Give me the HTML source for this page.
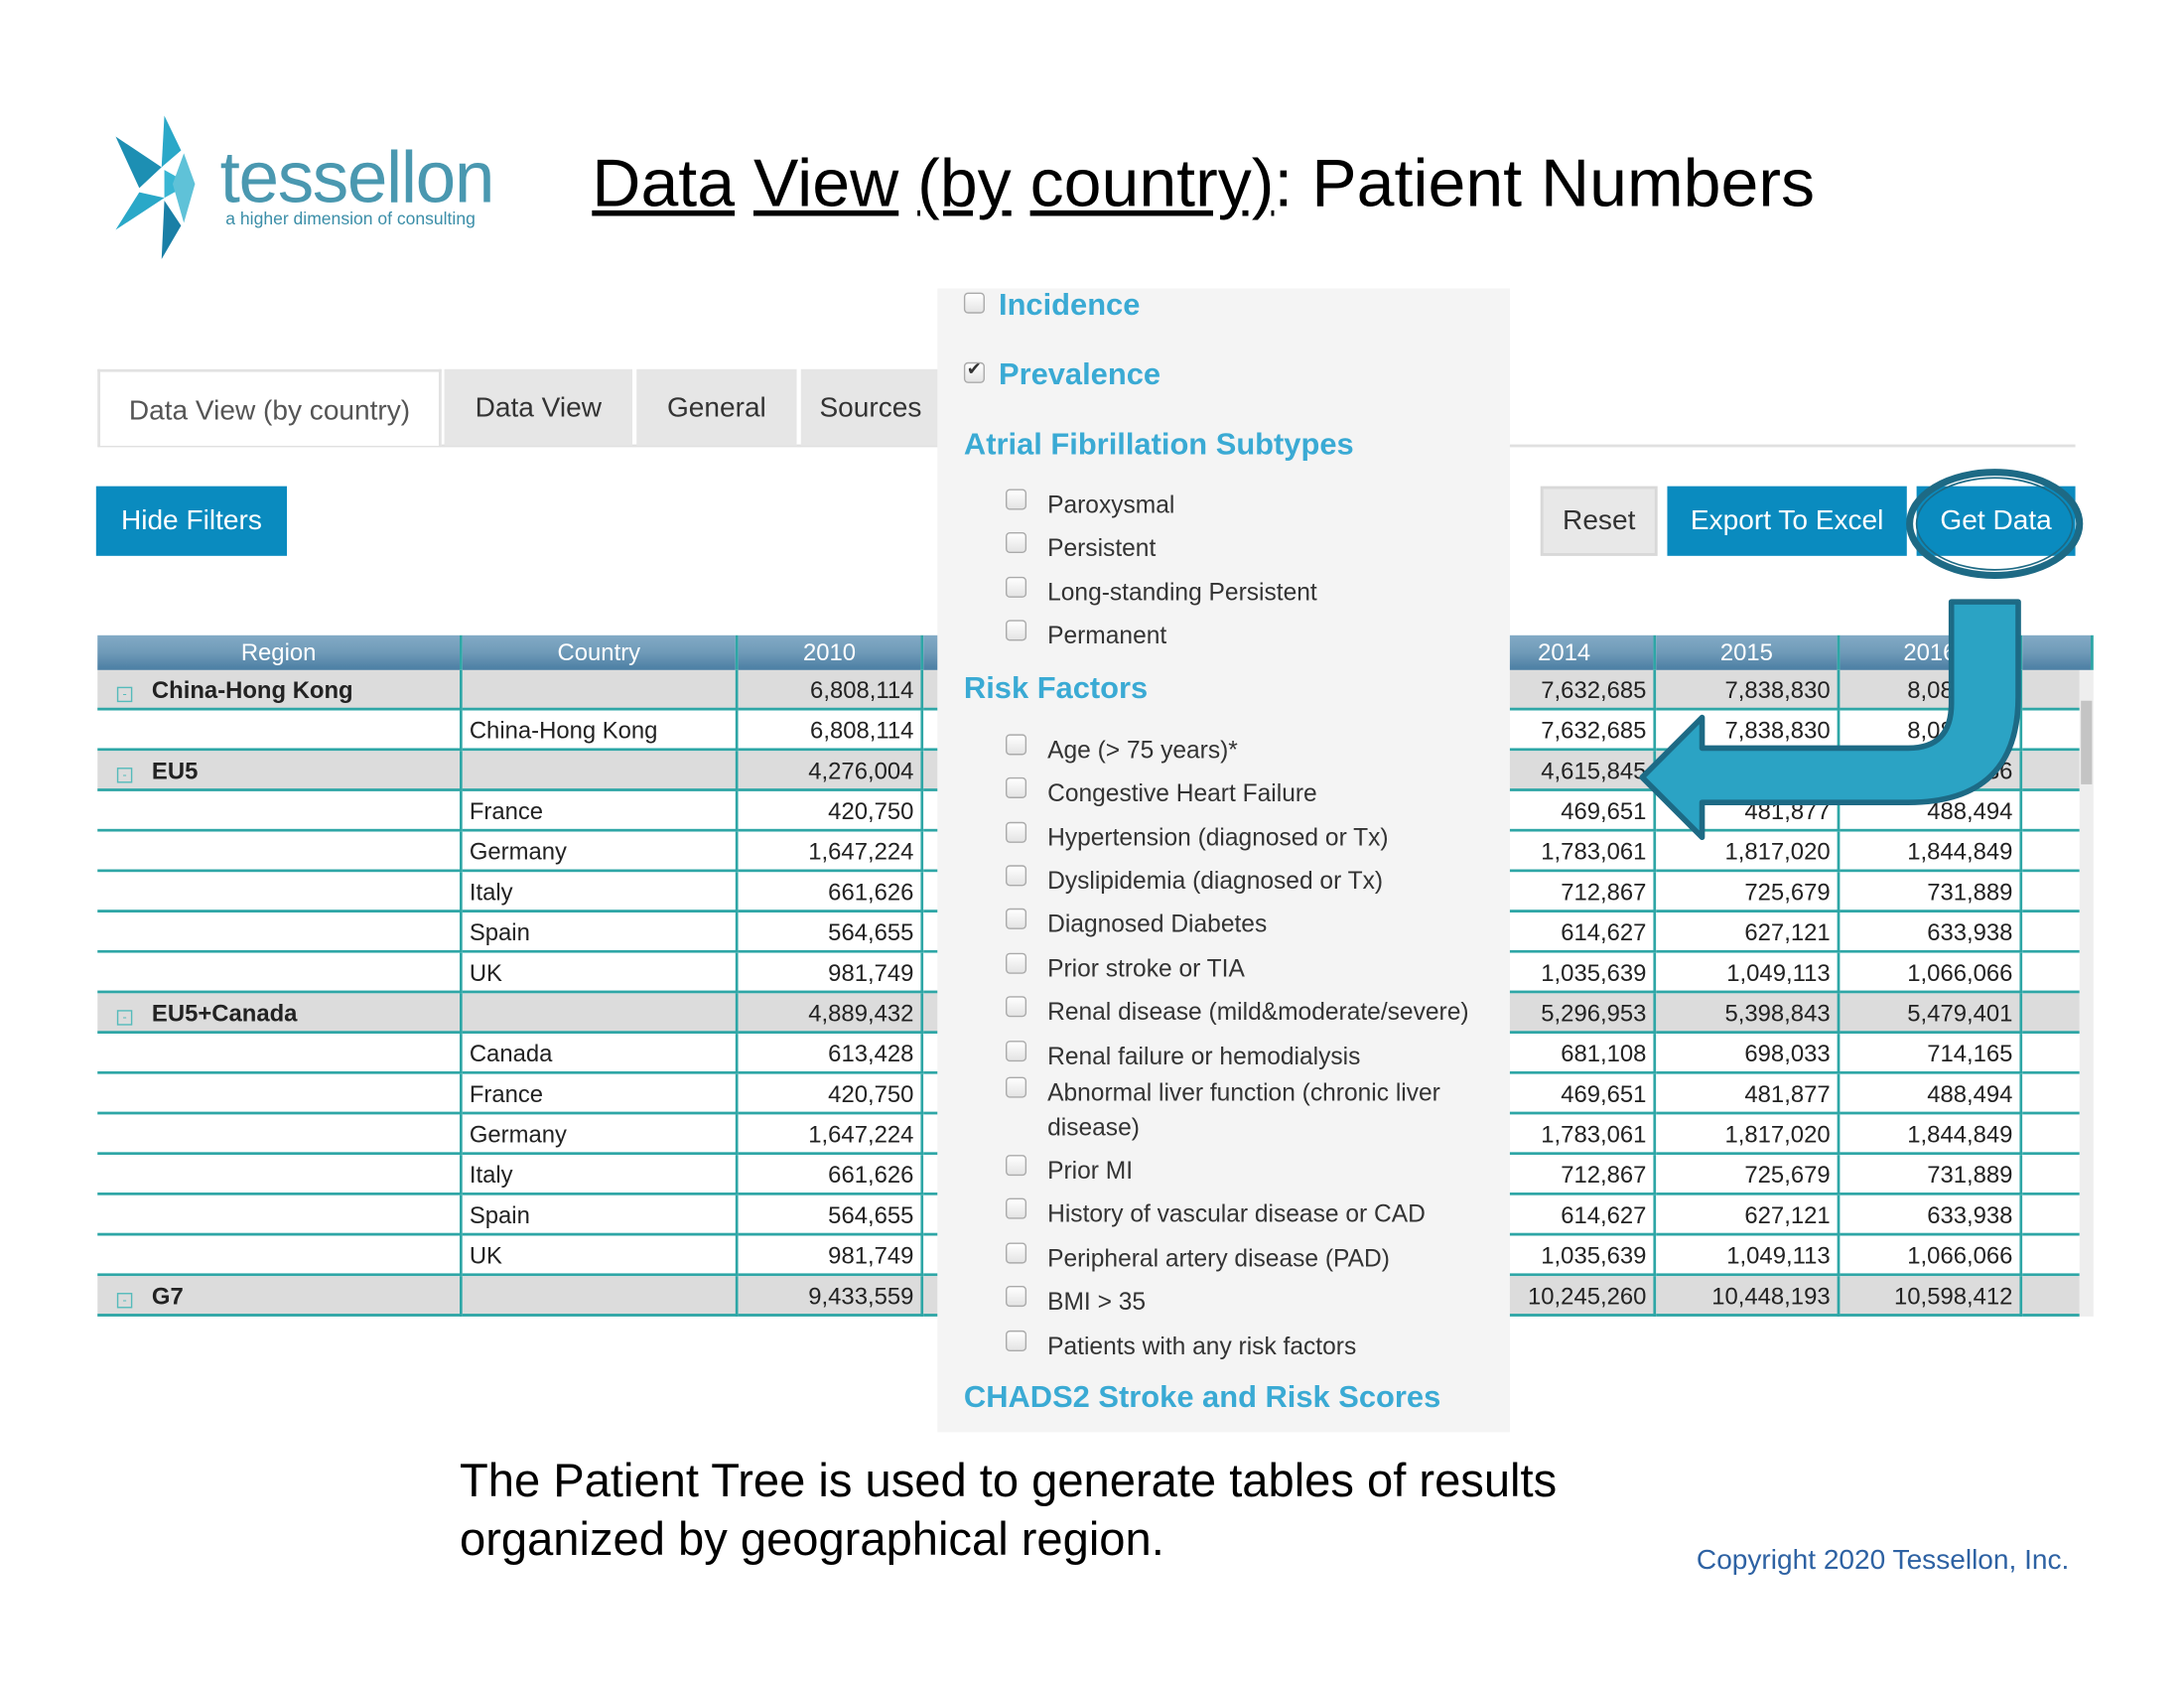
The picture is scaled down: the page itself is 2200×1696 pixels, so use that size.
<!DOCTYPE html>
<html><head><meta charset="utf-8">
<style>
html,body{margin:0;padding:0;background:#fff;}
body{width:2200px;height:1696px;overflow:hidden;position:relative;}
#s{position:absolute;left:0;top:0;width:1568px;height:1209px;transform:scale(1.40306);transform-origin:0 0;font-family:"Liberation Sans",sans-serif;}
.a{position:absolute;}
.tab{position:absolute;top:265px;height:55px;background:#e6e6e6;color:#333;font-size:20px;line-height:56px;text-align:center;}
.btn{position:absolute;top:349px;height:50px;line-height:50px;font-size:20px;color:#fff;background:#0a8bbf;text-align:center;}
.cell{position:absolute;height:29px;line-height:30px;font-size:17px;color:#222;box-sizing:border-box;border-right:2px solid #2ea6a6;border-bottom:2px solid #2ea6a6;padding:0 5px;white-space:nowrap;overflow:hidden;}
.hd{position:absolute;top:456px;height:25px;line-height:26px;font-size:17px;color:#fff;text-align:center;background:linear-gradient(#83abc6,#6f9ab8 50%,#4a7ea3);box-sizing:border-box;border-right:2px solid #2ea6a6;overflow:hidden;white-space:nowrap;}
.cb{position:absolute;width:13px;height:13px;border:1.5px solid #aaa;border-radius:3px;background:linear-gradient(#fff,#e4e4e4);}
.it{position:absolute;font-size:17.5px;color:#333;}
.h{position:absolute;font-size:22px;font-weight:bold;color:#3aaad4;}
</style></head><body>
<div id="s">
<svg class="a" style="left:78px;top:80px" width="80" height="110">
<polygon points="40,3 52,28 38,40" fill="#2aa8c8"/><polygon points="5,18 38,40 22,55" fill="#1d8fb3"/><polygon points="40,42 58,52 40,62" fill="#39b6d3"/>
<polygon points="22,58 40,62 5,85" fill="#2aa8c8"/><polygon points="40,64 52,82 38,106" fill="#1a7fa6"/><polygon points="54,30 62,52 54,80 46,52" fill="#5fc2d8"/>
</svg>
<div class="a" style="left:158px;top:98px;font-size:52px;color:#4a98b0;letter-spacing:-1px">tessellon</div>
<div class="a" style="left:162px;top:150px;font-size:12.5px;color:#3b8ea8">a higher dimension of consulting</div>
<div class="a" style="left:425px;top:104px;font-size:48.5px;color:#000;white-space:nowrap"><u>Data</u> <u>View</u> <u>(by</u> <u>country)</u>: Patient Numbers</div>

<div class="a" style="left:70px;top:319px;width:1420px;height:2px;background:#e0e0e0"></div>
<div class="tab" style="left:70px;width:247px;background:#fff;border:2px solid #e2e2e2;border-bottom:none;box-sizing:border-box;color:#555">Data View (by country)</div>
<div class="tab" style="left:319px;width:135px">Data View</div>
<div class="tab" style="left:457px;width:115px">General</div>
<div class="tab" style="left:575px;width:100px">Sources</div>

<div class="btn" style="left:69px;width:137px">Hide Filters</div>
<div class="btn" style="left:1106px;width:84px;background:#e8e8e8;color:#333;border:2px solid #d8d8d8;box-sizing:border-box;line-height:46px">Reset</div>
<div class="btn" style="left:1197px;width:172px">Export To Excel</div>
<div class="btn" style="left:1376px;width:114px">Get Data</div>

<div id="tbl"></div>
<div class="a" style="left:1493px;top:481px;width:10px;height:464px;background:#eee"><div style="position:absolute;top:22px;left:1px;width:8px;height:60px;background:#c4c4c4"></div></div>

<div class="a" style="left:673px;top:207px;width:411px;height:821px;background:#f4f4f4"></div>
<div id="panel"></div>

<svg class="a" style="left:0;top:0" width="1568" height="1209">
<ellipse cx="1432" cy="376" rx="61" ry="37" fill="none" stroke="#1d6a85" stroke-width="5"/>
<ellipse cx="1432" cy="376" rx="56" ry="33" fill="none" stroke="#1d6a85" stroke-width="1.2"/>
<path d="M1401,432 L1449,432 L1449,500 Q1449,576 1370,576 L1222,576 L1222,601 L1179,558 L1222,515 L1222,537 L1370,537 Q1401,537 1401,505 Z" fill="#2ba3c4" stroke="#1d6a85" stroke-width="4" stroke-linejoin="round"/>
</svg>

<div class="a" style="left:330px;top:1043px;font-size:33.6px;color:#000;line-height:42px">The Patient Tree is used to generate tables of results<br>organized by geographical region.</div>
<div class="a" style="left:1218px;top:1109px;font-size:20px;color:#2e62a3">Copyright 2020 Tessellon, Inc.</div>
</div>
<script>
const years=["2010","2011","2012","2013","2014","2015","2016","2017"];
const regions=["China-Hong Kong","","EU5","","","","","","EU5+Canada","","","","","","","G7"];
const countries=["","China-Hong Kong","","France","Germany","Italy","Spain","UK","","Canada","France","Germany","Italy","Spain","UK",""];
const v2010=["6,808,114","6,808,114","4,276,004","420,750","1,647,224","661,626","564,655","981,749","4,889,432","613,428","420,750","1,647,224","661,626","564,655","981,749","9,433,559"];
const v2014=["7,632,685","7,632,685","4,615,845","469,651","1,783,061","712,867","614,627","1,035,639","5,296,953","681,108","469,651","1,783,061","712,867","614,627","1,035,639","10,245,260"];
const v2015=["7,838,830","7,838,830","4,700,810","481,877","1,817,020","725,679","627,121","1,049,113","5,398,843","698,033","481,877","1,817,020","725,679","627,121","1,049,113","10,448,193"];
const v2016=["8,083,610","8,083,610","4,765,236","488,494","1,844,849","731,889","633,938","1,066,066","5,479,401","714,165","488,494","1,844,849","731,889","633,938","1,066,066","10,598,412"];
const colX=[70,332,530,663,795,927,1059,1189,1321,1452,1493];
const t=document.getElementById('tbl');
const heads=["Region","Country"].concat(years);
for(let c=0;c<heads.length;c++){
  const d=document.createElement('div');d.className='hd';
  
  
  let w=(c==9)?(1503-colX[c]):(colX[c+1]-colX[c]);
  d.style.left=colX[c]+'px';d.style.width=w+'px';d.textContent=heads[c];
  if(c==9){d.style.textAlign='left';d.style.paddingLeft='45px';d.style.textIndent='-2px';d.style.paddingLeft='0';d.textContent='';}
  t.appendChild(d);
}
const vals={0:v2010,4:v2014,5:v2015,6:v2016};
for(let r=0;r<regions.length;r++){
  const grp=regions[r]!=="";
  for(let c=0;c<10;c++){
    const d=document.createElement('div');d.className='cell';
    
    
    d.style.left=colX[c]+'px';d.style.top=(481+r*29)+'px';
    d.style.width=(colX[c+1]-colX[c])+'px';
    d.style.background=grp?'#dcdcdc':'#fff';
    if(c==9){d.style.borderRight='none';}
    if(c==0&&grp){d.innerHTML='<span style="display:inline-block;width:9px;height:9px;border:1px solid #5bb;margin:0 14px 0 9px;font-size:9px;line-height:8px;color:#5bb;text-align:center">-</span><b>'+regions[r]+'</b>';}
    else if(c==1){d.textContent=countries[r];}
    else if(c>=2){const a=vals[c-2];if(a){d.textContent=a[r];}d.style.textAlign='right';}
    t.appendChild(d);
  }
}
const items=[["cb",692,220,"Incidence",1,0],["cb",692,270,"Prevalence",1,1],["h",692,320,"Atrial Fibrillation Subtypes"],
["cb",722,361,"Paroxysmal"],["cb",722,392,"Persistent"],["cb",722,424,"Long-standing Persistent"],["cb",722,455,"Permanent"],
["h",692,495,"Risk Factors"],["cb",722,537,"Age (> 75 years)*"],["cb",722,568,"Congestive Heart Failure"],["cb",722,600,"Hypertension (diagnosed or Tx)"],
["cb",722,631,"Dyslipidemia (diagnosed or Tx)"],["cb",722,662,"Diagnosed Diabetes"],["cb",722,694,"Prior stroke or TIA"],["cb",722,725,"Renal disease (mild&moderate/severe)"],
["cb",722,757,"Renal failure or hemodialysis"],["cb",722,783,"Abnormal liver function (chronic liver<br>disease)"],["cb",722,839,"Prior MI"],["cb",722,870,"History of vascular disease or CAD"],
["cb",722,902,"Peripheral artery disease (PAD)"],["cb",722,933,"BMI > 35"],["cb",722,965,"Patients with any risk factors"],["h",692,1004,"CHADS2 Stroke and Risk Scores"]];
const p=document.getElementById('panel');
for(const it of items){
  if(it[0]=="h"){const d=document.createElement('div');d.className='h';
    
    
    d.style.left=it[1]+'px';d.style.top=(it[2]-14)+'px';d.innerHTML=it[3];p.appendChild(d);continue;}
  const b=document.createElement('div');b.className='cb';
  
  
  b.style.left=it[1]+'px';b.style.top=(it[2]-10)+'px';
  if(it[5]){b.innerHTML='<span style="position:absolute;left:1px;top:-4px;font-size:13px;color:#333">✔</span>';}
  p.appendChild(b);
  const l=document.createElement('div');
  
  
  if(it[4]){l.className='h';l.style.top=(it[2]-14)+'px';}else{l.className='it';l.style.top=(it[2]-11)+'px';l.style.lineHeight='25px';}
  l.style.left=(it[1]+(it[4]?25:30))+'px';l.innerHTML=it[3];p.appendChild(l);
}
</script>
</body></html>
